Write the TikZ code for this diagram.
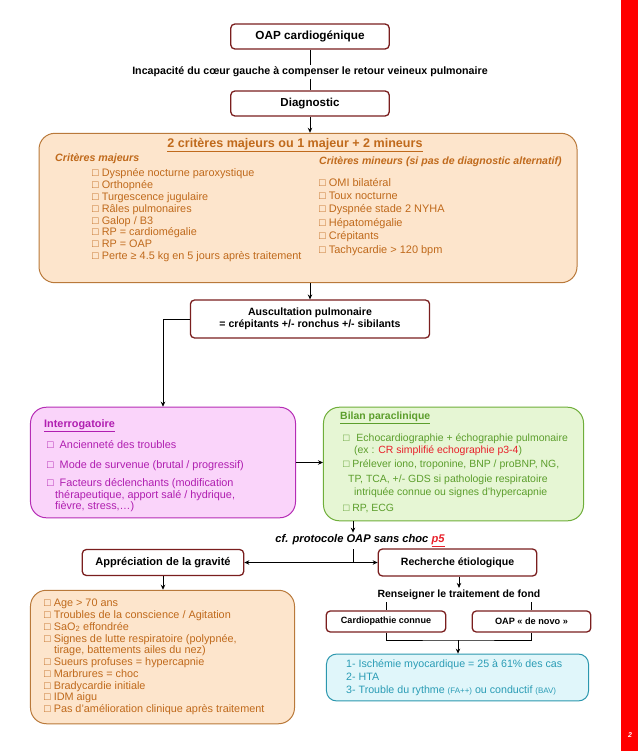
\documentclass[tikz,border=0pt]{standalone}
\usepackage{fontspec}
\setmainfont{Liberation Sans}
\usetikzlibrary{positioning,arrows.meta}

\definecolor{boxborder}{HTML}{7A1E1E}
\definecolor{orangefill}{HTML}{FDE5CC}
\definecolor{orangeline}{HTML}{B9793A}
\definecolor{orangetext}{HTML}{C06A1C}
\definecolor{pinkfill}{HTML}{FAD4FA}
\definecolor{pinkline}{HTML}{B52DB5}
\definecolor{pinktext}{HTML}{B01EB0}
\definecolor{greenfill}{HTML}{E6F6D4}
\definecolor{greenline}{HTML}{6FAE3A}
\definecolor{greentext}{HTML}{5C9E2C}
\definecolor{cyanfill}{HTML}{E0F6FA}
\definecolor{cyanline}{HTML}{2B97AE}
\definecolor{cyantext}{HTML}{2A9CB5}
\definecolor{pagered}{HTML}{FF0000}
\definecolor{linkred}{HTML}{E8202A}

\tikzset{
  etape/.style={draw=boxborder, line width=1.3pt, rounded corners=4pt, fill=white,
    font=\bfseries\fontsize{10.8}{12.5}\selectfont, align=center, inner sep=0pt},
  bloc/.style={rounded corners=16pt, line width=1pt, inner sep=0pt},
  liste/.style={align=left, anchor=north west, inner sep=0pt},
  fleche/.style={-{Stealth[length=5pt,width=4.5pt]}, line width=1pt},
  trait/.style={line width=1pt},
}

\begin{document}
\begin{tikzpicture}[x=1bp,y=-1bp]
    \useasboundingbox (0,0) rectangle (638,751);
    % Page margin:
    \fill[pagered] (621,0) rectangle (638,751);
    \node[text=white, font=\bfseries\itshape\fontsize{7}{8}\selectfont] (page) at (630,735) {2};
    % Steps:
    \node[etape, font=\bfseries\fontsize{11.8}{13}\selectfont, minimum width=159, minimum height=25] (oap) at (310,36.5) {OAP cardiogénique};
    \node[font=\bfseries\fontsize{10.7}{12}\selectfont, inner sep=2pt] (inc) at (310,72)
      {Incapacité du cœur gauche à compenser le retour veineux pulmonaire};
    \node[etape, font=\bfseries\fontsize{11.6}{13}\selectfont, minimum width=159, minimum height=25] (diag) at (310,103.5) {Diagnostic};
    % Criteria:
    \node[bloc, draw=orangeline, fill=orangefill, minimum width=540, minimum height=150] (crit) at (308,208) {};
    \node[text=orangetext, font=\bfseries\fontsize{12.6}{14}\selectfont] (crit-t) at (295,145)
      {\underline{2 critères majeurs ou 1 majeur + 2 mineurs}};
    \node[liste, anchor=west, text=orangetext, font=\bfseries\itshape\fontsize{10.7}{12}\selectfont] (maj-t) at (55,159) {Critères majeurs};
    \node[liste, text=orangetext, font=\fontsize{10.9}{12}\selectfont] (maj) at (92,168)
      {□ Dyspnée nocturne paroxystique\\
       □ Orthopnée\\
       □ Turgescence jugulaire\\
       □ Râles pulmonaires\\
       □ Galop / B3\\
       □ RP = cardiomégalie\\
       □ RP = OAP\\
       □ Perte ≥ 4.5 kg en 5 jours après traitement};
    \node[liste, anchor=west, text=orangetext, font=\bfseries\itshape\fontsize{10.6}{12}\selectfont] (min-t) at (319,162)
      {Critères mineurs (si pas de diagnostic alternatif)};
    \node[liste, text=orangetext, font=\fontsize{11}{13.4}\selectfont] (min) at (319,178)
      {□ OMI bilatéral\\
       □ Toux nocturne\\
       □ Dyspnée stade 2 NYHA\\
       □ Hépatomégalie\\
       □ Crépitants\\
       □ Tachycardie > 120 bpm};
    \node[etape, font=\bfseries\fontsize{10.6}{12.5}\selectfont, minimum width=240, minimum height=38] (ausc) at (310,319)
      {Auscultation pulmonaire\\= crépitants +/- ronchus +/- sibilants};
    % Interrogatoire:
    \node[bloc, draw=pinkline, fill=pinkfill, minimum width=266, minimum height=111] (interro) at (163,462.5) {};
    \node[liste, text=pinktext, font=\fontsize{10.9}{11.8}\selectfont] (interro-txt) at (44,419)
      {\textbf{\underline{Interrogatoire}}\\[8.2pt]
       \hspace{3pt}□\hspace{6pt}Ancienneté des troubles\\[8.2pt]
       \hspace{3pt}□\hspace{6pt}Mode de survenue (brutal / progressif)\\[6.2pt]
       \hspace{3pt}□\hspace{6pt}Facteurs déclenchants (modification\\
       \hspace{11pt}thérapeutique, apport salé / hydrique,\\
       \hspace{11pt}fièvre, stress,…)};
    % Bilan:
    \node[bloc, draw=greenline, fill=greenfill, minimum width=261, minimum height=114] (bilan) at (453.5,464) {};
    \node[liste, text=greentext, font=\fontsize{10.5}{13.5}\selectfont] (bilan-txt) at (340,412)
      {\textbf{\underline{Bilan paraclinique}}\\[8.5pt]
       \hspace{3pt}□\hspace{7pt}Echocardiographie + échographie pulmonaire\\[-1.5pt]
       \hspace{14pt}(ex : \textcolor{linkred}{CR simplifié echographie p3-4})\\[0.5pt]
       \hspace{3pt}□ Prélever iono, troponine, BNP / proBNP, NG,\\[1.5pt]
       \hspace{8pt}TP, TCA, +/- GDS si pathologie respiratoire\\[-0.5pt]
       \hspace{14pt}intriquée connue ou signes d’hypercapnie\\[2.5pt]
       \hspace{3pt}□ RP, ECG};
    \node[font=\bfseries\itshape\fontsize{11.2}{12}\selectfont, inner sep=2pt] (cf) at (360,541)
      {cf. protocole OAP sans choc \textcolor{linkred}{\underline{p5}}};
    \coordinate (j) at (353,562.5);
    % Gravity:
    \node[etape, font=\bfseries\fontsize{11.1}{12.5}\selectfont, minimum width=162, minimum height=26] (grav) at (163,562.5) {Appréciation de la gravité};
    \node[bloc, draw=orangeline, fill=orangefill, minimum width=265, minimum height=134] (signes) at (162.5,657) {};
    \node[liste, text=orangetext, font=\fontsize{10.9}{11.8}\selectfont] (signes-txt) at (44,599)
      {□ Age > 70 ans\\
       □ Troubles de la conscience / Agitation\\
       □ SaO\textsubscript{2} effondrée\\
       □ Signes de lutte respiratoire (polypnée,\\
       \hspace{10pt}tirage, battements ailes du nez)\\
       □ Sueurs profuses = hypercapnie\\
       □ Marbrures = choc\\
       □ Bradycardie initiale\\
       □ IDM aigu\\
       □ Pas d’amélioration clinique après traitement};
    % Etiology:
    \node[etape, font=\bfseries\fontsize{10.6}{12.5}\selectfont, minimum width=159, minimum height=27] (etio) at (457.5,562.5) {Recherche étiologique};
    \node[font=\bfseries\fontsize{10.5}{12}\selectfont, inner sep=2pt] (rens) at (459,595) {Renseigner le traitement de fond};
    \node[etape, font=\bfseries\fontsize{9.1}{10}\selectfont, minimum width=120, minimum height=21] (cardio) at (386,621.5) {Cardiopathie connue};
    \node[etape, font=\bfseries\fontsize{9.2}{10}\selectfont, minimum width=119, minimum height=21] (novo) at (531.5,621.5) {OAP « de novo »};
    \coordinate (k) at (458,640);
    \node[bloc, rounded corners=10pt, draw=cyanline, fill=cyanfill, minimum width=263, minimum height=47] (causes) at (457.5,677.5) {};
    \node[liste, text=cyantext, font=\fontsize{10.7}{13.5}\selectfont] (causes-txt) at (346,659)
      {1- Ischémie myocardique = 25 à 61\% des cas\\
       2- HTA\\
       3- Trouble du rythme {\fontsize{8}{9}\selectfont (FA++)} ou conductif {\fontsize{8}{9}\selectfont (BAV)}};
    % Connectors:
    \draw[trait] (oap.south) -- (oap.south |- inc.north);
    \draw[trait] (diag.north |- inc.south) -- (diag.north);
    \draw[fleche] (diag.south) -- (diag.south |- crit.north);
    \draw[fleche] (crit.south -| ausc) -- (ausc.north);
    \draw[fleche] (ausc.west) -| (interro);
    \draw[fleche] (interro.east) -- (interro.east -| bilan.west);
    \draw[fleche] (bilan.south -| j) -- (cf.north -| j);
    \draw[trait] (cf.south -| j) -- (j);
    \draw[{Stealth[length=5pt,width=4.5pt]}-{Stealth[length=5pt,width=4.5pt]}, line width=1pt] (grav.east) -- (grav.east -| etio.west);
    \draw[fleche] (grav.south) -- (grav.south |- signes.north);
    \draw[fleche] (etio.south -| rens) -- (rens.north);
    \draw[trait] (rens.south -| cardio) -- (cardio);
    \draw[trait] (rens.south -| novo) -- (novo);
    \draw[trait] (cardio.south) |- (k) -| (novo.south);
    \draw[fleche] (k) -- (causes.north -| k);
\end{tikzpicture}
\end{document}
